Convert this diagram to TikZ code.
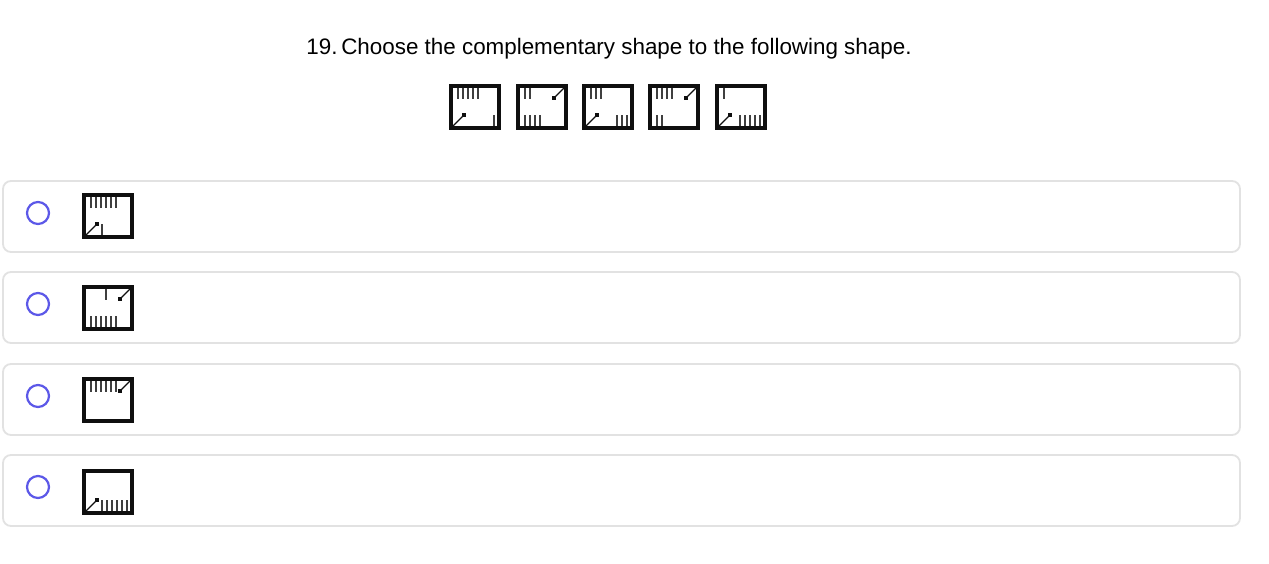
\documentclass[tikz,border=0pt]{standalone}
\usepackage{fontspec}
\setmainfont{Liberation Sans}
\definecolor{radio}{RGB}{92,88,232}
\definecolor{cardline}{RGB}{226,226,226}
\definecolor{ink}{RGB}{15,15,15}
\tikzset{
  frame/.style={draw=ink, line width=3.1pt},
  tk/.style={draw=ink!80, line width=1.4pt},
  diag/.style={draw=ink, line width=1.1pt},
  card/.style={draw=cardline, line width=1.8pt, rounded corners=8pt},
  radiob/.style={draw=radio, line width=2.2pt},
}
\newcommand\tticks[1]{\foreach \t in {#1} \draw[tk] (\t,0) -- (\t,13);}
\newcommand\bticks[1]{\foreach \t in {#1} \draw[tk] (\t,42) -- (\t,29);}
\newcommand\bldot{\draw[diag] (0,42) -- (13,29); \fill[ink] (11,27) rectangle (15,31);}
\newcommand\trdot{\draw[diag] (48,0) -- (36,12); \fill[ink] (34,10) rectangle (38,14);}
\newcommand\qshape[3]{\begin{scope}[shift={(#1,#2)}] #3 \draw[frame] (0,0) rectangle (48,42); \end{scope}}
\begin{document}
\begin{tikzpicture}[x=1pt,y=-1pt]
\fill[white] (0,0) rectangle (1269,564);
\useasboundingbox (0,0) rectangle (1269,564);
\node[anchor=base, inner sep=0pt, font=\fontsize{22.4}{25}\selectfont] (title) at (609,55) {19.\,Choose the complementary shape to the following shape.};
% question shapes
\qshape{451}{86}{\tticks{7,12,17,22,27}\bldot\bticks{43}}
\qshape{518}{86}{\tticks{7,12}\trdot\bticks{7,12,17,22}}
\qshape{584}{86}{\tticks{7,12,17}\bldot\bticks{33,38,43}}
\qshape{650}{86}{\tticks{7,12,17,22}\trdot\bticks{7,12}}
\qshape{717}{86}{\tticks{7}\bldot\bticks{23,28,33,38,43}}
% option cards
\foreach \y/\nm in {181/a,272/b,364/c,455/d}{
  \draw[card] (3,\y) rectangle (1240,\y+71);
  \node[radiob, circle, minimum size=22pt, inner sep=0pt] (radio\nm) at (38,\y+32) {};
}
\qshape{84}{195}{\tticks{7,12,17,22,27,32}\bldot\bticks{18}}
\qshape{84}{287}{\tticks{22}\trdot\bticks{7,12,17,22,27,32}}
\qshape{84}{379}{\tticks{7,12,17,22,27,32}\trdot}
\qshape{84}{471}{\bldot\bticks{18,23,28,33,38,43}}
\end{tikzpicture}
\end{document}
